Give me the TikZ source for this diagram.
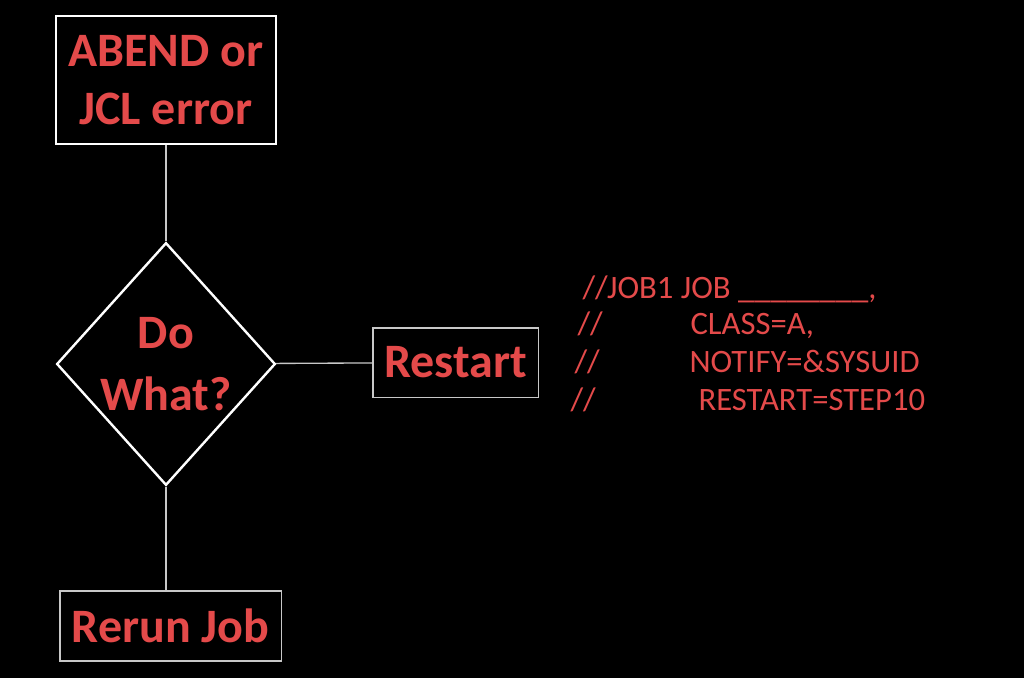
\documentclass[tikz,border=0pt]{standalone}
\usepackage{fontspec}
\setmainfont{Carlito}
\usetikzlibrary{positioning, shapes.geometric}

\definecolor{jclred}{RGB}{228,74,74}
\definecolor{linegray}{RGB}{200,200,200}

\begin{document}
\begin{tikzpicture}[x=0.75pt, y=-0.75pt, thick]
        % Define block styles
        \tikzstyle{block} = [rectangle, draw=white, line width=1.5pt, text=jclred, font=\fontsize{36}{43}\selectfont\bfseries, align=center, inner sep=0pt]
        \tikzstyle{decision} = [diamond, draw=white, line width=1.8pt, text=jclred, font=\fontsize{36}{46}\selectfont\bfseries, align=center, inner sep=-12pt]
        \tikzstyle{code} = [text=jclred, font=\fontsize{24.5}{29}\selectfont, anchor=base west, inner sep=0pt]
        \tikzstyle{link} = [draw=linegray, line width=1pt]

        % Background
        \fill[black] (0,0) rectangle (1024,678);
        \useasboundingbox (0,0) rectangle (1024,678);

        % Place nodes
        \node [block, minimum width=165pt, minimum height=96pt] (abend) at (166,80) {ABEND or\\JCL error};
        \node [decision, minimum width=164pt, minimum height=182pt] (dowhat) at (166,364) {Do\\What?};
        \node [block, draw=linegray, line width=1pt, minimum width=124pt, minimum height=52pt] (restart) at (455.5,362.5) {Restart};
        \node [block, draw=linegray, line width=1pt, minimum width=166pt, minimum height=52.5pt] (rerun) at (170.5,626) {Rerun Job};

        % JCL statements
        \node [code] (jobcard) at (582,298) {//JOB1 JOB \_\_\_\_\_\_\_\_,};
        \node [code] (slash2) at (577,334) {//};
        \node [code] (classparm) at (690,334) {CLASS=A,};
        \node [code] (slash3) at (574,372) {//};
        \node [code] (notifyparm) at (689,372) {NOTIFY=\&SYSUID};
        \node [code] (slash4) at (570,410) {//};
        \node [code] (restartparm) at (698,410) {RESTART=STEP10};

        % Draw connections
        \draw [link] (abend) -- (dowhat);
        \draw [link] (dowhat) -- (restart);
        \draw [link] (dowhat.south) -- (dowhat.south |- rerun.north);
    \end{tikzpicture}
\end{document}
